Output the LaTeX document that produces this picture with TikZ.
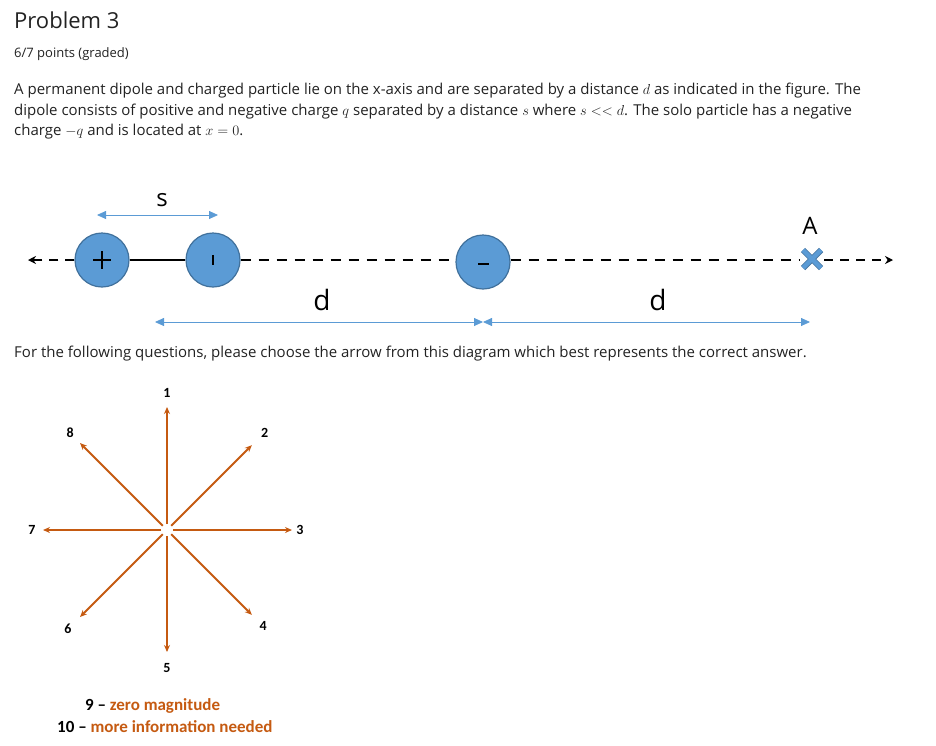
\documentclass[tikz,border=0pt]{standalone}
\usepackage{fontspec}
\setmainfont{Open Sans}
\newfontfamily\carlitofont{Carlito}
\usetikzlibrary{arrows.meta,calc}
\definecolor{cblue}{HTML}{5B9BD5}
\definecolor{cbord}{HTML}{41719C}
\definecolor{corange}{HTML}{C55A11}
\definecolor{txt}{HTML}{222222}
\begin{document}
\begin{tikzpicture}[x=1pt,y=-1pt,
  line/.style={anchor=west,inner sep=0,font=\fontsize{15}{18}\selectfont,text=txt},
  charge/.style={circle,fill=cblue,draw=cbord,line width=1.2pt,minimum size=54pt,inner sep=0},
  dim/.style={cblue,line width=0.8pt,{Triangle[length=9pt,width=8pt]}-{Triangle[length=9pt,width=8pt]}},
  star/.style={corange,line width=2pt,-{Stealth[length=7pt,width=6pt]}},
  num/.style={font=\carlitofont\bfseries\fontsize{14}{16}\selectfont}]
\useasboundingbox (0,0) rectangle (936,745);
\node[line,font=\fontsize{22}{24}\selectfont] (title) at (14,20) {Problem 3};
\node[line,font=\fontsize{13}{15}\selectfont] (pts) at (14,54) {6/7 points (graded)};
\node[line] (l1) at (14,91) {A permanent dipole and charged particle lie on the x-axis and are separated by a distance $d$ as indicated in the figure. The};
\node[line] (l2) at (14,112) {dipole consists of positive and negative charge $q$ separated by a distance $s$ where $s<<d$. The solo particle has a negative};
\node[line] (l3) at (14,132) {charge $-q$ and is located at $x=0$.};
% axis
\coordinate (L) at (28,260);
\coordinate (R) at (893,260);
\node[charge] (p) at (102,260) {};
\node[charge] (n) at (213,260) {};
\node[charge] (m) at (483,262) {};
\node[minimum size=24pt,inner sep=0] (A) at (812,259) {};
\draw[cbord,line width=6pt] (803,250) -- (821,268) (803,268) -- (821,250);
\draw[cblue,line width=4.5pt] (803,250) -- (821,268) (803,268) -- (821,250);
\draw[line width=2pt,dash pattern=on 9pt off 7pt,-{Stealth[length=8pt,width=8pt]}] (p.west) -- (L);
\draw[line width=2pt] (p.east) -- (n.west);
\draw[line width=2pt,dash pattern=on 10pt off 8pt] (n.east) -- (m.west|-n.east);
\draw[line width=2pt,dash pattern=on 10pt off 8pt] (m.east|-n.east) -- (A.west|-n.east);
\draw[line width=2pt,dash pattern=on 9pt off 7pt,-{Stealth[length=8pt,width=8pt]}] (A.east|-n.east) -- (R);
\draw[line width=2.5pt] (93,260) -- (111,260) (102,251) -- (102,269);
\draw[line width=2.5pt] (213,255) -- (213,265);
\draw[line width=2.5pt] (478,264) -- (489,264);
% dims
\coordinate (s1) at (97,215); \coordinate (s2) at (218,215);
\draw[dim] (s1) -- (s2);
\node[font=\fontsize{24}{24}\selectfont] (sl) at (162,200) {s};
\node[font=\fontsize{24}{24}\selectfont] (Al) at (810,226) {A};
\coordinate (d1) at (155,322); \coordinate (d2) at (483,322); \coordinate (d3) at (810,322);
\draw[dim] (d1) -- (d2);
\draw[dim] (d2) -- (d3);
\node[font=\fontsize{28}{28}\selectfont] (dl1) at (322,300) {d};
\node[font=\fontsize{28}{28}\selectfont] (dl2) at (658,300) {d};
\node[line] (q) at (14,354) {For the following questions, please choose the arrow from this diagram which best represents the correct answer.};
% star
\coordinate (c) at (167,530);
\foreach \ang/\len/\lab/\ld in {90/123/1/137, 45/120/2/138, 0/125/3/133, -45/120/4/136, -90/122/5/138, -135/123/6/140, 180/124/7/135, 135/123/8/137}{
  \draw[star] ($(c)+(-\ang:6)$) -- ($(c)+(-\ang:\len)$);
  \node[num] at ($(c)+(-\ang:\ld)$) {\lab};
}
\node[anchor=west,inner sep=0,font=\carlitofont\bfseries\fontsize{17}{19}\selectfont] (z) at (85,706) {9 – \textcolor{corange}{zero magnitude}};
\node[anchor=west,inner sep=0,font=\carlitofont\bfseries\fontsize{17}{19}\selectfont] (mi) at (57,727) {10 – \textcolor{corange}{more information needed}};
\end{tikzpicture}
\end{document}
